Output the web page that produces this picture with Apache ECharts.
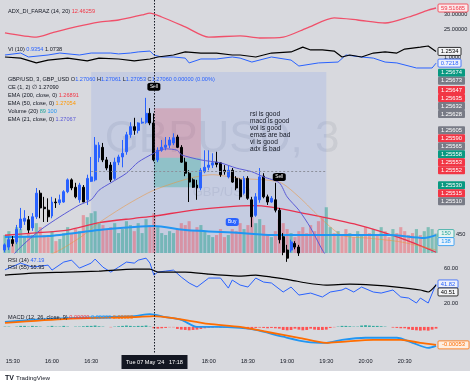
<!DOCTYPE html>
<html><head><meta charset="utf-8">
<script src="https://cdn.jsdelivr.net/npm/echarts@6/dist/echarts.min.js"></script>
<style>html,body{margin:0;padding:0;background:#fff}#c{width:474px;height:384px}</style>
</head><body><div id="c"></div>
<script>
// ---------------- DATA ----------------
const startMinutes = 15 * 60 + 24, barMinutes = 3, barCount = 111;
const times = Array.from({length: barCount}, (_, i) => {
  const m = startMinutes + i * barMinutes;
  return String(Math.floor(m / 60)).padStart(2, '0') + ':' + String(m % 60).padStart(2, '0');
});
const timeTicks = ['15:30','16:00','16:30','17:00','17:30','18:00','18:30','19:00','19:30','20:00','20:30'];
const crossTime = '17:18';
const crossLabel = "Tue 07 May '24   17:18";

// candles: [open, close, low, high]  (bars after 19:09 are below the visible price range)
const candles = [
[1.25444,1.25451,1.25441,1.25453],[1.25448,1.25458,1.25444,1.25462],[1.25458,1.25453,1.25449,1.25463],[1.25455,1.25472,1.25452,1.25478],
[1.25474,1.25486,1.25471,1.25501],[1.25483,1.25487,1.25478,1.25498],[1.25485,1.25471,1.25467,1.25490],[1.25474,1.25489,1.25470,1.25494],
[1.25489,1.25521,1.25486,1.25528],[1.25521,1.25501,1.25487,1.25525],[1.25502,1.25500,1.25482,1.25516],[1.25498,1.25489,1.25482,1.25514],
[1.25490,1.25509,1.25487,1.25516],[1.25509,1.25508,1.25501,1.25514],[1.25508,1.25512,1.25505,1.25519],[1.25509,1.25523,1.25508,1.25525],
[1.25523,1.25539,1.25521,1.25541],[1.25539,1.25528,1.25525,1.25541],[1.25529,1.25516,1.25514,1.25535],[1.25512,1.25532,1.25508,1.25535],
[1.25529,1.25509,1.25509,1.25532],[1.25512,1.25541,1.25505,1.25546],[1.25537,1.25543,1.25536,1.25570],[1.25539,1.25586,1.25537,1.25597],
[1.25569,1.25586,1.25563,1.25590],[1.25583,1.25566,1.25563,1.25589],[1.25566,1.25555,1.25552,1.25570],[1.25559,1.25539,1.25536,1.25563],
[1.25541,1.25563,1.25539,1.25569],[1.25563,1.25570,1.25559,1.25573],[1.25570,1.25575,1.25556,1.25593],[1.25577,1.25600,1.25573,1.25604],
[1.25600,1.25611,1.25596,1.25617],[1.25611,1.25606,1.25600,1.25623],[1.25606,1.25616,1.25602,1.25617],[1.25616,1.25617,1.25615,1.25623],
[1.25617,1.25629,1.25615,1.25650],[1.25629,1.25616,1.25613,1.25636],[1.25616,1.25566,1.25564,1.25629],[1.25566,1.25579,1.25563,1.25583],
[1.25579,1.25583,1.25577,1.25593],[1.25583,1.25586,1.25579,1.25597],[1.25586,1.25593,1.25582,1.25597],[1.25589,1.25596,1.25586,1.25602],
[1.25597,1.25583,1.25582,1.25600],[1.25583,1.25563,1.25562,1.25586],[1.25563,1.25548,1.25544,1.25569],[1.25548,1.25536,1.25509,1.25552],
[1.25539,1.25529,1.25528,1.25541],[1.25532,1.25528,1.25512,1.25539],[1.25528,1.25552,1.25525,1.25555],[1.25550,1.25556,1.25548,1.25579],
[1.25556,1.25559,1.25552,1.25579],[1.25559,1.25562,1.25555,1.25575],[1.25563,1.25560,1.25556,1.25577],[1.25562,1.25546,1.25543,1.25563],
[1.25552,1.25550,1.25546,1.25559],[1.25543,1.25552,1.25541,1.25559],[1.25552,1.25536,1.25535,1.25555],[1.25541,1.25528,1.25525,1.25544],
[1.25539,1.25516,1.25512,1.25541],[1.25521,1.25541,1.25519,1.25544],[1.25541,1.25514,1.25512,1.25544],[1.25512,1.25489,1.25475,1.25516],
[1.25491,1.25516,1.25489,1.25521],[1.25512,1.25543,1.25508,1.25555],[1.25544,1.25516,1.25514,1.25548],[1.25516,1.25509,1.25505,1.25519],
[1.25509,1.25514,1.25508,1.25517],[1.25512,1.25498,1.25495,1.25535],[1.25498,1.25458,1.25453,1.25501],[1.25462,1.25441,1.25437,1.25467],
[1.25444,1.25433,1.25428,1.25451],[1.25444,1.25455,1.25441,1.25458],[1.25453,1.25448,1.25445,1.25456],[1.25448,1.25440,1.25436,1.25451]
];
// direction of the bars whose candles are off-screen (1 up, -1 down), from 19:12 on
const hiddenBarDir = [-1,-1,-1,-1,-1,-1,1,1,-1,1,-1,-1,1,-1,1,1,-1,-1,1,-1,1,-1,-1,1,-1,-1,-1,-1,-1,1,-1,1,1,1,1];

const volumes = [139,169,108,200,185,123,154,139,231,200, 139,123,169,92,108,154,200,154,185,169,
 293,277,308,323,231,216,185,200,231,154, 185,246,216,169,231,154,262,216,308,200,
 154,139,169,154,185,231,216,246,169,200, 216,169,139,123,139,185,123,139,185,169,
 231,185,216,277,231,262,216,139,123,169, 262,231,185,154,123,169,200,154,216,169,
 246,277,354,200,154,169,139,185,154,123, 169,139,200,154,185,139,200,169,123,185,
 154,200,169,139,154,185,139,169,200,185, 150];
const volumeMA = [['15:24',124],['15:57',131],['16:36',178],['17:03',201],['17:18',209],['17:42',178],['18:24',155],['18:48',139],['19:09',139],['20:18',139],['20:45',116],['20:54',138]];

const ema21 = [['15:24',1.25425],['15:36',1.25448],['15:51',1.25471],['16:06',1.25489],['16:21',1.25505],['16:30',1.25512],['16:36',1.25525],['16:45',1.25535],['16:57',1.25548],['17:06',1.25563],['17:18',1.25575],['17:27',1.25581],['17:36',1.25579],['17:39',1.25573],['17:54',1.25566],['18:09',1.25562],['18:21',1.25555],['18:33',1.25550],['18:42',1.25543],['18:54',1.25535],['19:00',1.25516],['19:09',1.25498],['19:18',1.25474],['19:27',1.25444],['19:33',1.25428]];
const ema50 = [['15:48',1.25430],['16:06',1.25444],['16:24',1.25464],['16:36',1.25481],['16:57',1.25505],['17:18',1.25525],['17:45',1.25541],['18:03',1.25546],['18:24',1.25541],['18:54',1.25536],['19:09',1.25516],['19:27',1.25485],['19:42',1.25464],['20:03',1.25460],['20:27',1.25455],['20:54',1.25444]];
const ema200 = [['15:24',1.25464],['15:45',1.25467],['16:12',1.25471],['16:36',1.25481],['17:03',1.25487],['17:18',1.25490],['17:48',1.25498],['18:12',1.25502],['18:33',1.25504],['18:48',1.25502],['19:09',1.25495],['19:54',1.25478],['20:27',1.25460],['20:54',1.25441]];

const adxLine = [['15:24',23.7],['15:48',22.3],['16:00',23.7],['16:18',25.7],['16:36',27.3],['16:51',28.0],['17:09',29.7],['17:15',30.3],['17:24',29.0],['17:42',25.7],['18:00',22.3],['18:24',22.7],['18:39',22.0],['18:57',22.3],['19:15',25.3],['19:36',28.7],['19:54',28.0],['20:15',27.0],['20:33',29.0],['20:48',31.3],['20:54',32.0]];

const viPlus = [['15:24',1.09],['15:36',1.18],['15:42',1.00],['15:57',1.09],['16:06',1.18],['16:21',1.09],['16:30',1.18],['16:45',1.18],['16:51',1.14],['17:00',1.18],['17:06',1.23],['17:15',1.27],['17:18',1.09],['17:24',1.00],['17:33',1.00],['17:42',0.95],['17:45',0.73],['17:54',0.91],['18:06',0.91],['18:18',1.00],['18:24',0.95],['18:33',0.77],['18:48',1.00],['19:03',0.86],['19:09',0.59],['19:24',0.73],['19:39',0.77],['19:45',1.09],['19:57',1.00],['20:06',0.95],['20:15',0.77],['20:24',0.73],['20:39',0.50],['20:51',0.50],['20:54',0.72]];
const viMinus = [['15:24',1.00],['15:36',0.95],['15:48',0.73],['15:57',0.86],['16:12',0.95],['16:27',0.82],['16:36',0.95],['16:51',0.91],['17:03',0.82],['17:15',0.91],['17:21',1.00],['17:33',1.09],['17:42',1.23],['17:54',1.18],['18:06',1.18],['18:18',1.09],['18:24',1.09],['18:36',1.00],['18:48',1.18],['19:03',1.23],['19:12',1.45],['19:18',1.32],['19:27',1.32],['19:36',1.27],['19:42',1.00],['19:48',1.09],['19:57',1.00],['20:06',1.18],['20:15',1.23],['20:24',1.18],['20:30',1.36],['20:42',1.45],['20:48',1.50],['20:54',1.25]];

const rsi14 = [['15:24',58.0],['15:27',60.0],['15:36',65.7],['15:45',61.1],['15:57',63.4],['16:00',57.7],['16:09',66.9],['16:15',69.1],['16:21',60.0],['16:30',65.7],['16:33',70.3],['16:39',61.1],['16:45',55.4],['16:51',61.1],['16:57',66.9],['17:03',65.7],['17:06',69.1],['17:12',71.4],['17:15',65.7],['17:18',52.0],['17:21',55.4],['17:27',56.6],['17:33',57.7],['17:39',49.7],['17:45',42.9],['17:51',38.3],['18:00',48.6],['18:09',48.6],['18:15',37.1],['18:18',46.3],['18:24',40.6],['18:30',38.3],['18:36',48.6],['18:42',44.0],['18:48',42.9],['18:57',32.6],['19:03',38.3],['19:09',29.1],['19:18',31.4],['19:27',26.9],['19:33',32.6],['19:42',34.9],['19:45',37.1],['19:51',32.6],['19:57',38.3],['20:06',32.6],['20:12',31.4],['20:21',34.9],['20:27',26.9],['20:33',25.7],['20:39',20.0],['20:42',25.7],['20:48',20.0],['20:54',41.8]];
const rsi55 = [['15:24',52.0],['15:45',54.3],['16:12',55.4],['16:36',56.6],['17:03',58.9],['17:15',58.9],['17:21',55.4],['17:42',55.4],['18:00',53.1],['18:24',50.9],['18:36',52.0],['18:48',49.7],['19:03',46.3],['19:15',42.9],['19:30',40.6],['19:48',41.7],['20:06',40.6],['20:24',38.3],['20:42',34.9],['20:48',32.6],['20:54',40.5]];

const macdLine = [['15:24',0.00015],['15:45',0.00021],['16:12',0.00026],['16:36',0.00029],['17:03',0.00032],['17:15',0.00038],['17:27',0.00029],['17:39',0.00021],['17:51',0.0],['18:06',0.0],['18:24',-0.00003],['18:36',-0.00009],['18:57',-0.00029],['19:15',-0.00044],['19:30',-0.00047],['19:42',-0.00038],['20:00',-0.00032],['20:24',-0.00032],['20:36',-0.00047],['20:48',-0.00062],['20:54',-0.00056]];
const signalLine = [['15:24',0.00012],['16:12',0.00024],['17:03',0.00029],['17:18',0.00032],['17:33',0.00026],['18:00',0.00009],['18:24',0.0],['18:45',-0.00015],['19:09',-0.00032],['19:30',-0.00047],['19:42',-0.00044],['20:06',-0.00038],['20:27',-0.00038],['20:42',-0.00047],['20:54',-0.00053]];
const macdHist = [0.00001,0.00001,0,0.00001,0.00003,0.00003,0.00001,0.00003,0.00002,0.00001,0,0.00001,0.00003,0.00001,0.00001,0.00003,0.00001,0,0.00001,0.00001,
 0.00002,0.00003,0.00003,0.00004,0.00002,0.00001,0,-0.00001,0.00001,0.00002,0.00003,0.00004,0.00003,0.00002,0.00003,0.00003,0.00004,0.00001,
 -0.00004,-0.00005,-0.00004,-0.00003,-0.00001,-0.00001,-0.00006,-0.00008,-0.00009,-0.00010,-0.00009,-0.00008,-0.00006,
 -0.00004,-0.00003,-0.00002,-0.00001,-0.00002,-0.00002,-0.00001,-0.00002,-0.00003,-0.00002,-0.00002,-0.00007,-0.00008,
 -0.00003,-0.00002,-0.00003,-0.00004,-0.00003,-0.00004,-0.00005,-0.00009,-0.00010,-0.00009,-0.00005,-0.00008,-0.00010,-0.00009,-0.00005,
 -0.00008,-0.00009,-0.00009,-0.00008,-0.00003,-0.00001,0.00001,0.00003,0.00003,0.00002,0.00001,0.00001,0.00004,0.00005,0.00004,
 0.00003,0.00003,0.00002,0.00001,0,-0.00002,-0.00003,-0.00004,-0.00004,-0.00007,-0.00009,-0.00010,-0.00011,-0.00010,-0.00011,-0.00008,-0.00005];

// strategy signals and drawings
const signals = [['17:18',1.25665,'Sell'],['18:54',1.25543,'Sell'],['18:18',1.25482,'Buy']];
const highlightRange = ['16:30','19:30'];
const highlightMid = 1.25550;
const shortPosition = {from:'17:18', to:'17:54', stop:1.25636, entry:1.25569, target:1.25529};

// right-scale tags
const priceTagValues = [1.25674,1.25673,1.25647,1.25635,1.25632,1.25628,1.25605,1.25590,1.25565,1.25558,1.25553,1.25552,1.25530,1.25515,1.25510];
const priceTagKinds  = ['g','n','r','r','n','n','n','r','n','g','r','r','g','r','n'];
const adxTag = 59.51685, viTags = [1.2534, 0.7218], rsiTags = [41.82, 40.51], macdTag = -0.00053, volTags = [150, 138];
const adxTicks = [25, 30], viTicks = [1.0], rsiTicks = [20, 60];

const annotationLines = ['rsi is good','macd is good','vol is good','emas are bad','vi is good','adx is bad'];
const watermark = 'GBPUSD, 3', watermarkSub = 'GBP/USD';

// ---------------- STYLE ----------------
const fam = "'Liberation Sans', Arial, sans-serif";
const DARK='#131722', BLUE='#2962ff', RED='#f23645', GREEN='#089981', GREY='#787b86', ORANGE='#ff9800',
      MBLUE='#2196f3', MORANGE='#ff6d00', INDIGO='#5b5bd6', TEAL='#26a69a';
const BG = '#d8d9de';
const PRICE_MIN = 1.25440, PRICE_MAX = 1.25685;

const chart = echarts.init(document.getElementById('c'), null, {renderer:'canvas'});

const gridDefs = [{top:0,height:42},{top:43,height:27},{top:72,height:181},{top:255,height:55},{top:312,height:40}];
const grid = gridDefs.map(g => Object.assign({left:3, right:36}, g));

const xAxis = gridDefs.map((g, gi) => ({
  type:'category', gridIndex:gi, data:times, boundaryGap:true,
  axisLine:{show:false}, axisTick:{show:false}, splitLine:{show:false},
  axisPointer:{show:false},
  axisLabel:{show: gi === 4, interval:(i, v) => timeTicks.includes(v), fontSize:5.6, fontFamily:fam, color:DARK, margin:6}
}));

function yAx(gi, min, max, ticks, digits) {
  return {type:'value', gridIndex:gi, min, max, position:'right',
    axisLine:{show:false}, axisTick:{show:false}, splitLine:{show:false},
    axisLabel: ticks ? {show:true, customValues:ticks, formatter:v => Number(v).toFixed(digits), fontSize:5.6, fontFamily:fam, color:DARK, margin:6, showMinLabel:true, showMaxLabel:true}
                     : {show:false}};
}
const yAxis = [
  yAx(0, 20.667, 34.667, adxTicks, 5),
  yAx(1, 0.409, 1.636, viTicks, 4),
  yAx(2, PRICE_MIN, PRICE_MAX, null),
  yAx(2, 0, 1400, null),
  yAx(3, 12, 75, rsiTicks, 2),
  yAx(4, -0.00074, 0.00044, null)
];

function line(xi, yi, data, color, width, extra) {
  return Object.assign({type:'line', xAxisIndex:xi, yAxisIndex:yi, data, symbol:'none', showSymbol:false,
    smooth:0.25, lineStyle:{color, width}, itemStyle:{color}, z:4, silent:true}, extra || {});
}

const volData = volumes.map((v, i) => {
  const c = candles[i];
  const up = c ? c[1] >= c[0] : hiddenBarDir[i - candles.length] > 0;
  return {value:v, itemStyle:{color: up ? 'rgba(8,153,129,0.42)' : 'rgba(242,54,69,0.38)'}};
});

const series = [
  line(0, 0, adxLine, '#f0506a', 1.3),
  line(1, 1, viPlus, BLUE, 1, {smooth:false}),
  line(1, 1, viMinus, '#000', 1.2, {smooth:false}),
  {type:'bar', xAxisIndex:2, yAxisIndex:3, data:volData, barWidth:'80%', z:1, silent:true},
  line(2, 2, ema200, '#e8314f', 1.3, {z:2,
    markArea:{silent:true, data:[
      [{coord:[highlightRange[0], PRICE_MIN], itemStyle:{color:'rgba(41,98,255,0.11)'}}, {coord:[highlightRange[1], PRICE_MAX]}],
      [{coord:[shortPosition.from, shortPosition.stop], itemStyle:{color:'rgba(242,54,69,0.22)'}}, {coord:[shortPosition.to, shortPosition.entry]}],
      [{coord:[shortPosition.from, shortPosition.entry], itemStyle:{color:'rgba(34,171,148,0.32)'}}, {coord:[shortPosition.to, shortPosition.target]}]
    ]},
    markLine:{silent:true, symbol:'none', label:{show:false}, lineStyle:{color:'#8d909b', type:[2,2], width:1},
      data:[[{coord:[highlightRange[0], highlightMid]}, {coord:[highlightRange[1], highlightMid]}]]}
  }),
  line(2, 2, ema50, 'rgba(236,150,60,0.55)', 1, {z:2}),
  line(2, 3, volumeMA, MBLUE, 2, {z:2}),
  {type:'candlestick', xAxisIndex:2, yAxisIndex:2, data:candles, barWidth:'62%', z:3, silent:true,
    itemStyle:{color:BLUE, color0:'#000', borderColor:BLUE, borderColor0:'#000', borderWidth:1},
    markPoint:{silent:true, symbol:'roundRect', symbolSize:[13,8], data: signals.map(s => ({
      coord:[s[0], s[1]], value:s[2],
      itemStyle:{color: s[2] === 'Buy' ? BLUE : '#000'},
      label:{show:true, formatter:s[2], color:'#fff', fontSize:4.8, fontFamily:fam}}))}
  },
  line(2, 2, ema21, INDIGO, 1, {z:4}),
  line(3, 4, rsi14, BLUE, 1, {smooth:false}),
  line(3, 4, rsi55, '#000', 1.2, {smooth:0.2}),
  {type:'bar', xAxisIndex:4, yAxisIndex:5, data:macdHist.map(v => ({value:v, itemStyle:{color: v >= 0 ? TEAL : '#ff5252'}})), barWidth:'70%', z:2, silent:true},
  line(4, 5, macdLine, MBLUE, 1.8),
  line(4, 5, signalLine, MORANGE, 1.8)
];

chart.setOption({backgroundColor:BG, animation:false, grid, xAxis, yAxis, series});

// ---------------- OVERLAYS ----------------
const px = t => chart.convertToPixel({xAxisIndex:2}, t);
const py = (yi, v) => chart.convertToPixel({yAxisIndex:yi}, v);
const g = [];
function richText(parts, size) {
  let text = ''; const rich = {};
  parts.forEach(([t, c], i) => { rich['p' + i] = {fill:c, fontSize:size, fontFamily:fam}; text += '{p' + i + '|' + t + '}'; });
  return {text, rich};
}
function legend(y, parts) {
  const r = richText(parts, 5.6);
  g.push({type:'text', x:8, y, z:70, silent:true, style:{text:r.text, rich:r.rich, fill:DARK, fontSize:5.6, fontFamily:fam, verticalAlign:'middle'}});
}
function tag(y, text, fill, stroke, color, w) {
  w = w || 27;
  g.push({type:'rect', z:80, silent:true, shape:{x:438, y:y - 4, width:w, height:8, r:1}, style:{fill, stroke:stroke || null, lineWidth:stroke ? 0.8 : 0}});
  g.push({type:'text', z:81, silent:true, x:438 + w / 2, y, style:{text, fill:color, fontSize:5.8, fontFamily:fam, align:'center', verticalAlign:'middle'}});
}

// watermark
g.push({type:'text', z:0, silent:true, x:222, y:140, style:{text:watermark, fill:'rgba(110,115,130,0.13)', fontSize:44, fontFamily:fam, align:'center', verticalAlign:'middle'}});
g.push({type:'text', z:0, silent:true, x:222, y:192, style:{text:watermarkSub, fill:'rgba(110,115,130,0.13)', fontSize:13, fontFamily:fam, align:'center', verticalAlign:'middle'}});

// legends
legend(11, [['ADX_DI_FARAZ (14, 20) ', DARK], ['12.46259', RED]]);
legend(49, [['VI (10) ', DARK], ['0.9354 ', BLUE], ['1.0738', DARK]]);
legend(79, [['GBP/USD, 3, GBP_USD ', DARK], ['O', DARK], ['1.27060 ', BLUE], ['H', DARK], ['1.27061 ', BLUE], ['L', DARK], ['1.27053 ', BLUE], ['C', DARK], ['1.27060 ', BLUE], ['0.00000 (0.00%)', BLUE]]);
legend(87, [['CE (1, 2) ', DARK], ['\u2205 ', DARK], ['1.27090', DARK]]);
legend(95, [['EMA (200, close, 0) ', DARK], ['1.26891', RED]]);
legend(103, [['EMA (50, close, 0) ', DARK], ['1.27054', ORANGE]]);
legend(111, [['Volume (20) ', DARK], ['89 ', TEAL], ['100', MBLUE]]);
legend(119, [['EMA (21, close, 0) ', DARK], ['1.27067', INDIGO]]);
legend(260, [['RSI (14) ', DARK], ['47.19', BLUE]]);
legend(267, [['RSI (55) ', DARK], ['55.95', DARK]]);
legend(317, [['MACD (12, 26, close, 9) ', DARK], ['0.00000 ', RED], ['0.00000 ', MBLUE], ['0.00000', MORANGE]]);

// annotation
g.push({type:'text', z:70, silent:true, x:250, y:111, style:{text:annotationLines.join('\n'), fill:DARK, fontSize:6.6, lineHeight:7, fontFamily:fam}});

// crosshair
const cx = Math.round(px(crossTime)) + 0.5;
g.push({type:'line', z:75, silent:true, shape:{x1:cx, y1:0, x2:cx, y2:354}, style:{stroke:DARK, lineWidth:1, lineDash:[1.5, 1.5]}});
g.push({type:'rect', z:90, silent:true, shape:{x:cx - 33, y:355, width:66, height:14}, style:{fill:DARK}});
g.push({type:'text', z:91, silent:true, x:cx, y:362, style:{text:crossLabel, fill:'#fff', fontSize:5.6, fontFamily:fam, align:'center', verticalAlign:'middle'}});

// price tags (stacked bottom-up)
const kindColor = {g:GREEN, r:RED, n:GREY};
let ys = priceTagValues.map(v => py(2, v));
for (let i = ys.length - 2; i >= 0; i--) ys[i] = Math.min(ys[i], ys[i + 1] - 8);
priceTagValues.forEach((v, i) => tag(ys[i], v.toFixed(5), kindColor[priceTagKinds[i]], null, '#fff'));

// indicator tags
tag(Math.max(py(0, adxTag), 8), adxTag.toFixed(5), '#fbe9eb', RED, RED, 30);
tag(py(1, viTags[0]), viTags[0].toFixed(4), '#f4f5f7', '#000', '#000', 23);
tag(py(1, viTags[1]), viTags[1].toFixed(4), '#eef1fb', BLUE, BLUE, 23);
const r1 = py(4, rsiTags[0]);
tag(r1, rsiTags[0].toFixed(2), '#eef1fb', BLUE, BLUE, 20);
tag(Math.max(py(4, rsiTags[1]), r1 + 8), rsiTags[1].toFixed(2), '#f4f5f7', '#000', '#000', 20);
tag(py(5, macdTag), macdTag.toFixed(5), '#fdeee2', MORANGE, MORANGE, 31);
const v1 = py(3, volTags[0]);
tag(v1, String(volTags[0]), '#e6f4f1', TEAL, TEAL, 16);
tag(Math.max(py(3, volTags[1]), v1 + 8), String(volTags[1]), '#eaf3fd', MBLUE, MBLUE, 16);
g.push({type:'text', z:81, silent:true, x:456, y:v1 + 1, style:{text:'450', fill:DARK, fontSize:5.6, fontFamily:fam, verticalAlign:'middle'}});

// footer
g.push({type:'rect', z:95, silent:true, shape:{x:0, y:371, width:474, height:13}, style:{fill:'#fff'}});
g.push({type:'rect', z:95, silent:true, shape:{x:470, y:0, width:4, height:384}, style:{fill:'#fff'}});
g.push({type:'text', z:96, silent:true, x:5, y:378, style:{text:'TV', fill:DARK, fontSize:7, fontWeight:'bold', fontFamily:fam, verticalAlign:'middle'}});
g.push({type:'text', z:96, silent:true, x:16, y:378, style:{text:'TradingView', fill:DARK, fontSize:6.2, fontFamily:fam, verticalAlign:'middle'}});

chart.setOption({graphic:{elements:g}});
</script>
</body></html>
